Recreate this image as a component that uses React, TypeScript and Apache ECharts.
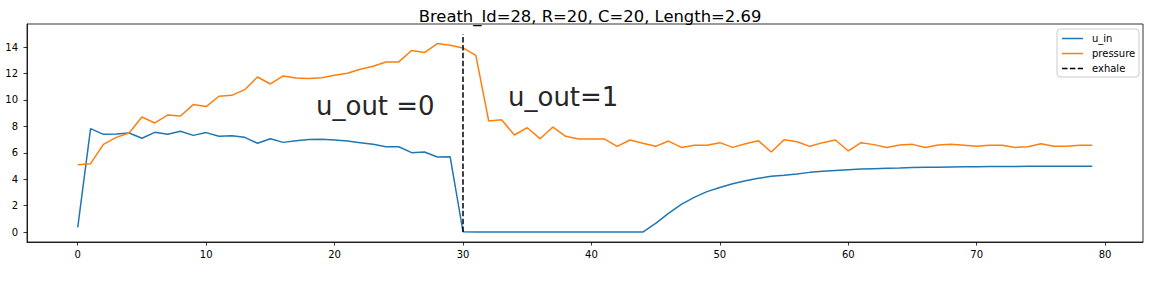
import React, { useEffect, useRef } from "react";
import * as echarts from "echarts";

const TITLE = "Breath_Id=28, R=20, C=20, Length=2.69";
const U_IN: number[] = [
  0.36, 7.83, 7.4, 7.42, 7.5, 7.1, 7.55, 7.4, 7.63, 7.32,
  7.53, 7.25, 7.3, 7.17, 6.72, 7.07, 6.79, 6.92, 7.0, 7.03,
  6.97, 6.89, 6.77, 6.64, 6.46, 6.46, 6.01, 6.06, 5.68, 5.7,
  0.03, 0, 0, 0, 0, 0, 0, 0, 0, 0,
  0, 0, 0, 0, 0, 0.66, 1.41, 2.1, 2.63, 3.06,
  3.38, 3.66, 3.89, 4.07, 4.22, 4.3, 4.39, 4.52, 4.6, 4.67,
  4.72, 4.77, 4.8, 4.83, 4.85, 4.88, 4.9, 4.91, 4.93, 4.94,
  4.95, 4.96, 4.97, 4.97, 4.98, 4.98, 4.98, 4.99, 4.99, 4.99,
];
const PRESSURE: number[] = [
  5.1, 5.18, 6.64, 7.17, 7.5, 8.71, 8.26, 8.86, 8.79, 9.65,
  9.5, 10.28, 10.35, 10.78, 11.74, 11.21, 11.82, 11.67, 11.62, 11.69,
  11.87, 12.02, 12.32, 12.55, 12.88, 12.88, 13.74, 13.59, 14.27, 14.14,
  13.94, 13.38, 8.41, 8.51, 7.35, 7.9, 7.07, 7.95, 7.25, 7.05,
  7.05, 7.05, 6.49, 6.97, 6.72, 6.49, 6.89, 6.41, 6.57, 6.57,
  6.77, 6.41, 6.69, 6.92, 6.06, 6.99, 6.84, 6.49, 6.77, 6.97,
  6.14, 6.77, 6.62, 6.41, 6.59, 6.64, 6.41, 6.59, 6.64, 6.57,
  6.49, 6.57, 6.57, 6.41, 6.46, 6.69, 6.49, 6.49, 6.57, 6.57,
];
const EXHALE_X = 30;
const EXHALE_Y: number[] = [0, 15];
const X_TICKS: number[] = [0, 10, 20, 30, 40, 50, 60, 70, 80];
const Y_TICKS: number[] = [0, 2, 4, 6, 8, 10, 12, 14];
const SERIES_NAMES = ["u_in", "pressure", "exhale"];
const ANNOTATIONS = ["u_out =0", "u_out=1"];

const BLUE = "#1f77b4";
const ORANGE = "#ff7f0e";
const FONT = "DejaVu Sans";

export default function App() {
  const ref = useRef<HTMLDivElement>(null);
  useEffect(() => {
    document.body.style.margin = "0";
    const chart = echarts.init(ref.current!, null, { renderer: "svg" });
    const axisCommon = {
      axisLine: { show: true, onZero: false, lineStyle: { color: "#000", width: 0.8 } },
      axisTick: { show: true, length: 3.5, lineStyle: { color: "#000", width: 0.8 } },
      splitLine: { show: false },
    };
    const legendY = [38.5, 53.5, 68.5];
    const legendColors = [BLUE, ORANGE, "#000"];
    const legendEls: any[] = [
      {
        type: "rect",
        shape: { x: 1057, y: 29, width: 82, height: 48, r: 3 },
        style: { fill: "rgba(255,255,255,0.8)", stroke: "#cccccc", lineWidth: 1 },
        z: 100,
      },
    ];
    SERIES_NAMES.forEach((n, i) => {
      legendEls.push({
        type: "line",
        shape: { x1: 1062, y1: legendY[i], x2: 1083, y2: legendY[i] },
        style: { stroke: legendColors[i], lineWidth: 1.5, lineDash: i === 2 ? [5.5, 2.4] : null },
        z: 101,
      });
      legendEls.push({
        type: "text",
        x: 1092,
        y: legendY[i],
        style: { text: n, font: `10px '${FONT}'`, fill: "#000", verticalAlign: "middle", align: "left" },
        z: 101,
      });
    });
    chart.setOption({
      animation: false,
      title: {
        text: TITLE,
        left: 585,
        top: 3,
        textAlign: "center",
        textStyle: { fontFamily: FONT, fontSize: 16.4, fontWeight: "normal", color: "#000" },
      },
      grid: {
        left: 27,
        top: 24,
        width: 1116,
        height: 218,
        show: true,
        borderColor: "#000",
        borderWidth: 0.8,
        containLabel: false,
      },
      xAxis: {
        type: "value",
        min: -3.95,
        max: 82.95,
        ...axisCommon,
        axisTick: { ...axisCommon.axisTick, customValues: X_TICKS },
        axisLabel: { customValues: X_TICKS, fontFamily: FONT, fontSize: 10, color: "#000", margin: 7 },
      },
      yAxis: {
        type: "value",
        min: -0.75,
        max: 15.75,
        ...axisCommon,
        axisTick: { ...axisCommon.axisTick, customValues: Y_TICKS },
        axisLabel: { customValues: Y_TICKS, fontFamily: FONT, fontSize: 10, color: "#000", margin: 9 },
      },
      series: [
        {
          name: SERIES_NAMES[0],
          type: "line",
          data: U_IN.map((v, i) => [i, v]),
          showSymbol: false,
          lineStyle: { color: BLUE, width: 1.5 },
          itemStyle: { color: BLUE },
        },
        {
          name: SERIES_NAMES[1],
          type: "line",
          data: PRESSURE.map((v, i) => [i, v]),
          showSymbol: false,
          lineStyle: { color: ORANGE, width: 1.5 },
          itemStyle: { color: ORANGE },
        },
        {
          name: SERIES_NAMES[2],
          type: "line",
          data: EXHALE_Y.map((v) => [EXHALE_X, v]),
          showSymbol: false,
          lineStyle: { color: "#000", width: 1.5, type: [5.5, 2.4] },
          itemStyle: { color: "#000" },
          z: 5,
        },
      ],
      graphic: [
        {
          type: "text",
          x: 316,
          y: 93,
          style: { text: ANNOTATIONS[0], font: `26px '${FONT}'`, fill: "#262626", verticalAlign: "top", align: "left" },
        },
        {
          type: "text",
          x: 508,
          y: 84,
          style: { text: ANNOTATIONS[1], font: `26px '${FONT}'`, fill: "#262626", verticalAlign: "top", align: "left" },
        },
        ...legendEls,
      ],
    });
    return () => chart.dispose();
  }, []);
  return <div ref={ref} style={{ width: 1150, height: 303 }} />;
}
